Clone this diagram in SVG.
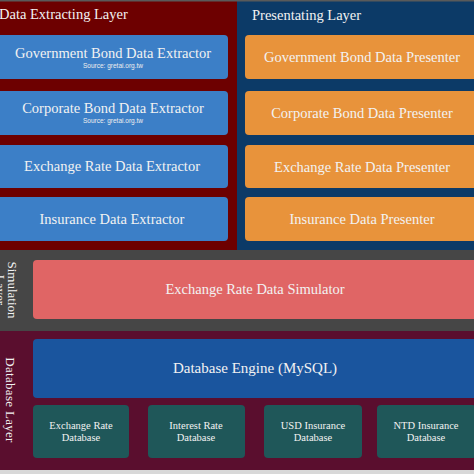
<svg xmlns="http://www.w3.org/2000/svg" width="474" height="474" viewBox="0 0 474 474">
<style>
.t{font-family:"Liberation Serif","Times New Roman",serif;fill:#f2f2f2;text-anchor:middle}
.big{font-size:14.5px}
.ttl{font-size:14.5px;text-anchor:start}
.src{font-family:"Liberation Sans",Arial,sans-serif;font-size:6.5px;fill:#eeeeee;text-anchor:middle}
.db{font-size:10.5px}
.ext{fill:#3c7fc7}
.pre{fill:#e8933b}
.dbx{fill:#1f5759}
</style>
<rect x="0" y="0" width="474" height="474" fill="#d8d8d8"/>
<g id="extract-layer">
<rect x="0" y="0" width="237.5" height="251" fill="#6d0000"/>
<text class="t ttl" x="-1" y="19">Data Extracting Layer</text>
</g>
<g id="present-layer">
<rect x="237" y="0" width="237" height="251" fill="#0c3a67"/>
<text class="t ttl" x="252" y="20">Presentating Layer</text>
</g>
<rect x="0" y="0" width="474" height="1.5" fill="#5a5a5a"/>
<g id="gov-extractor"><rect class="ext" x="-4" y="35" width="232" height="44" rx="4"/><text class="t big" x="113" y="58">Government Bond Data Extractor</text><text class="src" x="113" y="68">Source: gretai.org.tw</text></g>
<g id="corp-extractor"><rect class="ext" x="-4" y="91" width="232" height="44" rx="4"/><text class="t big" x="113" y="113">Corporate Bond Data Extractor</text><text class="src" x="113" y="123">Source: gretai.org.tw</text></g>
<g id="fx-extractor"><rect class="ext" x="-4" y="145" width="232" height="43" rx="4"/><text class="t big" x="112" y="171">Exchange Rate Data Extractor</text></g>
<g id="ins-extractor"><rect class="ext" x="-4" y="197" width="232" height="44" rx="4"/><text class="t big" x="112" y="224">Insurance Data Extractor</text></g>
<g id="gov-presenter"><rect class="pre" x="245" y="35" width="232" height="44" rx="4"/><text class="t big" x="362" y="62">Government Bond Data Presenter</text></g>
<g id="corp-presenter"><rect class="pre" x="245" y="91" width="232" height="44" rx="4"/><text class="t big" x="362" y="118">Corporate Bond Data Presenter</text></g>
<g id="fx-presenter"><rect class="pre" x="245" y="145" width="232" height="43" rx="4"/><text class="t big" x="362" y="172">Exchange Rate Data Presenter</text></g>
<g id="ins-presenter"><rect class="pre" x="245" y="197" width="232" height="44" rx="4"/><text class="t big" x="362" y="224">Insurance Data Presenter</text></g>
<g id="simulation-layer">
<rect x="0" y="250" width="474" height="81" fill="#464646"/>
<text class="t" font-size="13" transform="translate(8,290) rotate(90)">Simulation</text>
<text class="t" font-size="13" transform="translate(-4,290) rotate(90)">Layer</text>
</g>
<g id="fx-simulator"><rect x="33" y="260" width="445" height="59" rx="4" fill="#e06565"/><text class="t big" x="255" y="294">Exchange Rate Data Simulator</text></g>
<g id="database-layer">
<rect x="0" y="331" width="474" height="139" fill="#5a0e2e"/>
<text class="t" font-size="13" letter-spacing="0.3" transform="translate(6,400) rotate(90)">Database  Layer</text>
</g>
<g id="db-engine"><rect x="33" y="339" width="445" height="59" rx="4" fill="#1a559e"/><text class="t" font-size="15" x="255" y="373">Database Engine (MySQL)</text></g>
<g id="fx-db"><rect class="dbx" x="33" y="405" width="96" height="53" rx="4"/><text class="t db" x="81" y="429">Exchange Rate</text><text class="t db" x="81" y="441">Database</text></g>
<g id="ir-db"><rect class="dbx" x="148" y="405" width="97" height="53" rx="4"/><text class="t db" x="196" y="429">Interest Rate</text><text class="t db" x="196" y="441">Database</text></g>
<g id="usd-db"><rect class="dbx" x="264" y="405" width="98" height="53" rx="4"/><text class="t db" x="313" y="429">USD Insurance</text><text class="t db" x="313" y="441">Database</text></g>
<g id="ntd-db"><rect class="dbx" x="377" y="405" width="99" height="53" rx="4"/><text class="t db" x="426" y="429">NTD Insurance</text><text class="t db" x="426" y="441">Database</text></g>
<g id="connectors"></g>
</svg>
